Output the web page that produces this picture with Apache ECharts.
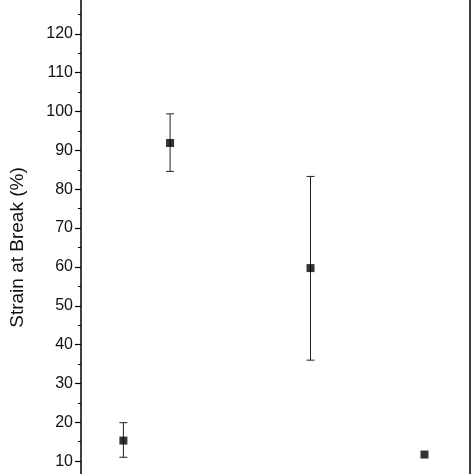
<!DOCTYPE html><html><head><meta charset="utf-8"><script src="https://cdn.jsdelivr.net/npm/echarts@6/dist/echarts.min.js"></script>
<style>html,body{margin:0;padding:0;background:#fff;overflow:hidden;width:474px;height:474px}#c{position:absolute;left:0;top:-13px;width:474px;height:521px}</style></head><body><div id="c"></div><script>
const xPos=[10.9,22.9,59.0,88.3];
const strain=[15.3,91.9,59.7,11.7];
const errLow=[11.0,84.6,36.0,11.7];
const errHigh=[19.9,99.4,83.3,11.7];
const yTicks=[0,10,20,30,40,50,60,70,80,90,100,110,120,130];
const ch=echarts.init(document.getElementById('c'));
const ax={show:true,lineStyle:{color:'#000',width:1.5}};
ch.setOption({animation:false,
grid:{left:77,right:4,top:0,bottom:0,containLabel:false},
xAxis:{type:'value',min:0,max:100,show:false},
yAxis:[{type:'value',min:0,max:130,interval:10,axisLine:ax,
 axisTick:{show:true,inside:false,length:6,lineStyle:{color:'#000',width:1.2}},
 minorTick:{show:true,splitNumber:2,length:3,lineStyle:{color:'#000'}},
 splitLine:{show:false},
 axisLabel:{color:'#111',fontFamily:'Liberation Sans',fontSize:16,margin:8,formatter:v=>yTicks.includes(v)?String(v):''},
 name:'Strain at Break (%)',nameLocation:'middle',nameGap:54,nameRotate:90,
 nameTextStyle:{color:'#111',fontFamily:'Liberation Sans',fontSize:19}},
 {type:'value',min:0,max:130,position:'right',axisLine:ax,axisTick:{show:false},axisLabel:{show:false},splitLine:{show:false}}],
series:[{type:'custom',renderItem:(p,api)=>{
 const lo=api.coord([api.value(0),api.value(1)]),hi=api.coord([api.value(0),api.value(2)]);
 if(Math.abs(lo[1]-hi[1])<1)return null;
 const s={stroke:'#222',lineWidth:1};
 return {type:'group',children:[
 {type:'line',shape:{x1:lo[0],y1:lo[1],x2:hi[0],y2:hi[1]},style:s},
 {type:'line',shape:{x1:lo[0]-4,y1:lo[1],x2:lo[0]+4,y2:lo[1]},style:s},
 {type:'line',shape:{x1:hi[0]-4,y1:hi[1],x2:hi[0]+4,y2:hi[1]},style:s}]};
},encode:{x:0,y:[1,2]},data:xPos.map((x,i)=>[x,errLow[i],errHigh[i]]),z:1},
{type:'scatter',symbol:'rect',symbolSize:8,itemStyle:{color:'#000'},data:xPos.map((x,i)=>[x,strain[i]]),z:2}]
});
</script></body></html>
